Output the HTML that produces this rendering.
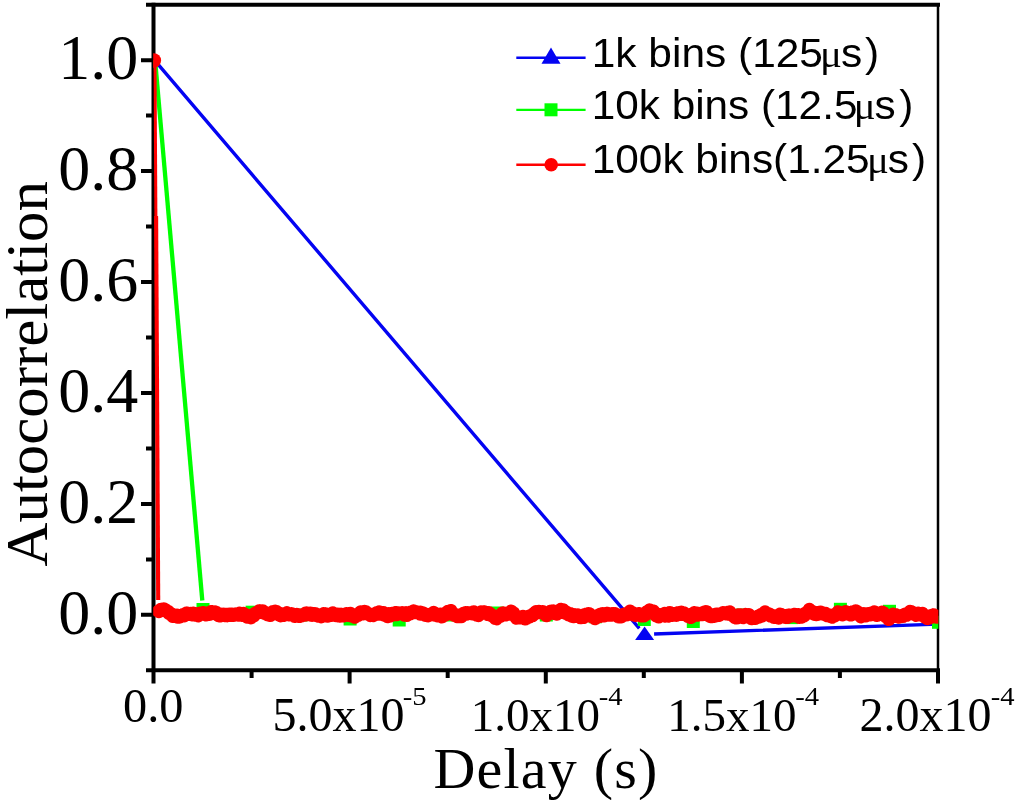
<!DOCTYPE html>
<html lang="en"><head><meta charset="utf-8"><title>Autocorrelation vs Delay</title>
<style>html,body{margin:0;padding:0;background:#fff}svg{display:block}.ser{font-family:"Liberation Serif",serif;fill:#000}.san{font-family:"Liberation Sans",sans-serif;fill:#000}</style></head><body>
<svg width="1015" height="800" viewBox="0 0 1015 800">
<rect width="1015" height="800" fill="#fff"/>
<defs><clipPath id="pa"><rect x="153.2" y="4" width="785.2" height="667"/></clipPath></defs>
<g stroke="#000" fill="none" stroke-linecap="butt">
<path d="M146 4.7 H940" stroke-width="4"/>
<path d="M146 670.3 H940" stroke-width="4"/>
<path d="M153.5 2.7 V683.5" stroke-width="4"/>
<path d="M938.0 4 V672" stroke-width="2.5"/>
<path d="M141 60.2 H153.5 M141 171.1 H153.5 M141 282.0 H153.5 M141 393.0 H153.5 M141 503.9 H153.5 M141 614.8 H153.5 M146 115.6 H153.5 M146 226.6 H153.5 M146 337.5 H153.5 M146 448.4 H153.5 M146 559.4 H153.5 M349.6 670.3 V683.5 M545.8 670.3 V683.5 M741.9 670.3 V683.5 M938.0 670.3 V683.5 M251.6 670.3 V678 M447.7 670.3 V678 M643.8 670.3 V678 M839.9 670.3 V678 " stroke-width="4"/>
</g>
<g clip-path="url(#pa)" fill="none" stroke-linejoin="round" stroke-linecap="butt">
<path d="M154.5 60.2 L639.3 628.4 M654.1 634.0 L938.0 624.1" stroke="#0404f2" stroke-width="3.4"/>
<path d="M644.6 626.5 L654.1 640.0 L635.1 640.0 Z" fill="#0404f2"/>
<path d="M155.1 60.2 L202.3 600.5" stroke="#00ff00" stroke-width="4.3"/>
<rect x="196.5" y="603.0" width="13" height="13" fill="#00ff00"/>
<rect x="245.6" y="605.7" width="13" height="13" fill="#00ff00"/>
<rect x="294.6" y="608.5" width="13" height="13" fill="#00ff00"/>
<rect x="343.6" y="612.5" width="13" height="13" fill="#00ff00"/>
<rect x="392.7" y="613.5" width="13" height="13" fill="#00ff00"/>
<rect x="441.7" y="608.5" width="13" height="13" fill="#00ff00"/>
<rect x="490.7" y="606.5" width="13" height="13" fill="#00ff00"/>
<rect x="539.8" y="608.5" width="13" height="13" fill="#00ff00"/>
<rect x="588.8" y="610.3" width="13" height="13" fill="#00ff00"/>
<rect x="637.8" y="613.0" width="13" height="13" fill="#00ff00"/>
<rect x="686.8" y="615.0" width="13" height="13" fill="#00ff00"/>
<rect x="735.9" y="608.5" width="13" height="13" fill="#00ff00"/>
<rect x="784.9" y="611.1" width="13" height="13" fill="#00ff00"/>
<rect x="833.9" y="602.8" width="13" height="13" fill="#00ff00"/>
<rect x="883.0" y="604.8" width="13" height="13" fill="#00ff00"/>
<rect x="932.0" y="615.8" width="13" height="13" fill="#00ff00"/>
<path d="M155.0 60.2 L155.9 216" stroke="#ff0000" stroke-width="3.0"/><path d="M156.1 216 L158.2 600" stroke="#ff0000" stroke-width="4.1"/>
<circle cx="153.8" cy="60.5" r="7.3" fill="#ff0000"/>
<polyline points="158.4,611.2 158.9,611.5 159.4,611.2 159.9,611.0 160.4,610.3 160.8,609.3 161.3,610.0 161.8,610.3 162.3,609.7 162.8,609.3 163.3,610.0 163.8,608.8 164.3,609.1 164.7,610.0 165.2,609.5 165.7,610.1 166.2,611.2 166.7,610.8 167.2,611.1 167.7,611.5 168.1,611.3 168.6,611.6 169.1,613.4 169.6,613.0 170.1,613.2 170.6,613.4 171.1,613.8 171.6,614.4 172.0,614.5 172.5,616.4 173.0,615.3 173.5,616.0 174.0,615.8 174.5,615.8 175.0,615.2 175.5,616.4 175.9,616.1 176.4,616.0 176.9,615.2 177.4,617.1 177.9,616.7 178.4,616.1 178.9,617.0 179.4,617.1 179.8,617.1 180.3,616.5 180.8,615.7 181.3,616.1 181.8,615.9 182.3,615.4 182.8,614.9 183.3,615.2 183.7,615.7 184.2,615.8 184.7,614.1 185.2,615.0 185.7,614.1 186.2,613.2 186.7,613.9 187.2,613.1 187.6,613.6 188.1,613.9 188.6,614.2 189.1,613.8 189.6,613.8 190.1,614.4 190.6,613.4 191.0,614.6 191.5,614.3 192.0,614.8 192.5,614.5 193.0,613.7 193.5,613.1 194.0,613.8 194.5,614.7 194.9,615.1 195.4,614.7 195.9,614.0 196.4,614.5 196.9,614.3 197.4,615.3 197.9,613.6 198.4,615.8 198.8,614.3 199.3,613.5 199.8,613.6 200.3,613.3 200.8,613.0 201.3,613.9 201.8,613.3 202.3,613.2 202.7,613.3 203.2,612.6 203.7,613.7 204.2,612.9 204.7,613.7 205.2,614.1 205.7,614.2 206.2,615.0 206.6,613.9 207.1,613.7 207.6,613.9 208.1,613.8 208.6,612.8 209.1,613.8 209.6,614.3 210.1,613.4 210.5,613.6 211.0,611.5 211.5,613.0 212.0,612.5 212.5,612.5 213.0,611.9 213.5,612.5 213.9,612.6 214.4,612.5 214.9,611.9 215.4,612.2 215.9,613.3 216.4,612.3 216.9,613.7 217.4,614.3 217.8,613.8 218.3,615.6 218.8,615.3 219.3,615.2 219.8,614.2 220.3,616.0 220.8,615.5 221.3,615.1 221.7,615.4 222.2,614.4 222.7,614.2 223.2,614.1 223.7,614.2 224.2,615.3 224.7,614.7 225.2,615.6 225.6,614.8 226.1,614.4 226.6,615.3 227.1,615.6 227.6,615.1 228.1,614.5 228.6,615.1 229.1,614.9 229.5,614.1 230.0,614.8 230.5,615.3 231.0,615.0 231.5,614.1 232.0,614.0 232.5,614.2 233.0,615.2 233.4,615.4 233.9,615.0 234.4,615.2 234.9,614.2 235.4,614.9 235.9,614.2 236.4,614.0 236.9,614.8 237.3,614.0 237.8,614.5 238.3,615.1 238.8,613.9 239.3,613.1 239.8,615.1 240.3,613.9 240.7,614.2 241.2,613.6 241.7,614.5 242.2,615.2 242.7,615.2 243.2,615.5 243.7,613.4 244.2,615.3 244.6,614.8 245.1,614.9 245.6,615.7 246.1,615.6 246.6,615.2 247.1,617.2 247.6,615.2 248.1,616.0 248.5,615.3 249.0,616.4 249.5,616.2 250.0,616.8 250.5,616.3 251.0,617.8 251.5,616.2 252.0,615.5 252.4,616.6 252.9,615.1 253.4,615.2 253.9,616.0 254.4,614.9 254.9,613.3 255.4,614.0 255.9,612.7 256.3,613.1 256.8,612.6 257.3,611.9 257.8,611.9 258.3,612.0 258.8,611.9 259.3,610.8 259.8,611.5 260.2,610.8 260.7,612.5 261.2,612.1 261.7,611.9 262.2,611.9 262.7,610.8 263.2,612.1 263.6,612.0 264.1,612.0 264.6,612.1 265.1,613.6 265.6,613.7 266.1,613.4 266.6,613.7 267.1,614.6 267.5,614.3 268.0,614.8 268.5,614.4 269.0,613.9 269.5,615.3 270.0,614.7 270.5,615.4 271.0,614.1 271.4,614.4 271.9,613.7 272.4,612.9 272.9,611.6 273.4,611.9 273.9,612.5 274.4,612.2 274.9,612.2 275.3,611.1 275.8,612.7 276.3,611.4 276.8,612.0 277.3,612.3 277.8,612.4 278.3,614.6 278.8,614.8 279.2,614.6 279.7,614.0 280.2,614.4 280.7,615.8 281.2,615.5 281.7,615.0 282.2,613.9 282.7,614.6 283.1,614.3 283.6,615.5 284.1,614.5 284.6,614.7 285.1,614.8 285.6,614.6 286.1,614.0 286.5,614.2 287.0,612.7 287.5,614.7 288.0,614.3 288.5,613.7 289.0,613.7 289.5,614.9 290.0,613.9 290.4,614.4 290.9,614.9 291.4,613.6 291.9,615.1 292.4,613.8 292.9,614.5 293.4,614.8 293.9,615.5 294.3,616.4 294.8,616.0 295.3,615.5 295.8,615.3 296.3,615.5 296.8,614.3 297.3,615.3 297.8,615.9 298.2,616.3 298.7,615.7 299.2,614.9 299.7,616.4 300.2,616.0 300.7,615.6 301.2,615.1 301.7,615.9 302.1,615.1 302.6,615.2 303.1,614.7 303.6,614.4 304.1,614.9 304.6,614.5 305.1,615.2 305.6,613.0 306.0,613.3 306.5,612.8 307.0,614.1 307.5,613.6 308.0,614.3 308.5,614.4 309.0,614.5 309.5,613.5 309.9,614.0 310.4,613.0 310.9,614.6 311.4,615.3 311.9,615.4 312.4,614.8 312.9,614.9 313.3,614.6 313.8,614.3 314.3,614.5 314.8,613.5 315.3,614.0 315.8,614.2 316.3,615.6 316.8,614.8 317.2,614.7 317.7,615.1 318.2,616.0 318.7,615.9 319.2,615.1 319.7,615.9 320.2,616.5 320.7,615.8 321.1,616.8 321.6,616.0 322.1,615.0 322.6,615.6 323.1,615.5 323.6,613.7 324.1,614.0 324.6,615.3 325.0,615.8 325.5,614.7 326.0,614.0 326.5,614.1 327.0,615.2 327.5,615.2 328.0,616.2 328.5,614.9 328.9,615.1 329.4,615.4 329.9,614.0 330.4,614.7 330.9,615.4 331.4,615.4 331.9,614.2 332.4,614.1 332.8,612.8 333.3,614.1 333.8,614.4 334.3,614.2 334.8,614.3 335.3,615.0 335.8,615.4 336.2,615.7 336.7,614.8 337.2,614.0 337.7,614.5 338.2,614.4 338.7,615.8 339.2,616.0 339.7,616.1 340.1,615.1 340.6,614.3 341.1,615.3 341.6,615.6 342.1,614.5 342.6,614.6 343.1,615.2 343.6,615.9 344.0,615.3 344.5,615.0 345.0,614.8 345.5,614.0 346.0,613.9 346.5,613.6 347.0,613.9 347.5,615.1 347.9,614.5 348.4,615.4 348.9,615.1 349.4,614.9 349.9,615.2 350.4,613.4 350.9,615.7 351.4,616.1 351.8,616.0 352.3,614.6 352.8,614.9 353.3,615.1 353.8,616.2 354.3,615.8 354.8,617.2 355.3,615.6 355.7,615.7 356.2,615.8 356.7,615.3 357.2,614.4 357.7,614.6 358.2,615.3 358.7,614.3 359.1,614.2 359.6,613.9 360.1,613.3 360.6,611.8 361.1,613.4 361.6,612.7 362.1,612.9 362.6,614.0 363.0,612.2 363.5,612.2 364.0,612.6 364.5,611.4 365.0,612.0 365.5,612.5 366.0,611.9 366.5,612.3 366.9,613.5 367.4,613.9 367.9,613.8 368.4,614.2 368.9,614.6 369.4,614.9 369.9,614.1 370.4,615.6 370.8,614.4 371.3,615.0 371.8,614.5 372.3,614.7 372.8,615.4 373.3,615.7 373.8,614.6 374.3,614.8 374.7,614.2 375.2,614.5 375.7,613.7 376.2,613.8 376.7,612.7 377.2,614.1 377.7,613.9 378.2,613.3 378.6,612.8 379.1,611.9 379.6,614.1 380.1,612.2 380.6,614.1 381.1,613.6 381.6,613.3 382.0,613.8 382.5,614.6 383.0,614.1 383.5,612.6 384.0,614.1 384.5,614.9 385.0,615.0 385.5,615.7 385.9,614.8 386.4,615.6 386.9,615.2 387.4,616.7 387.9,614.5 388.4,613.7 388.9,614.7 389.4,615.6 389.8,616.2 390.3,614.8 390.8,614.3 391.3,614.4 391.8,615.3 392.3,613.4 392.8,613.4 393.3,613.1 393.7,613.6 394.2,613.7 394.7,614.0 395.2,612.7 395.7,613.0 396.2,612.6 396.7,614.6 397.2,614.4 397.6,613.0 398.1,613.0 398.6,612.9 399.1,613.5 399.6,613.2 400.1,613.3 400.6,613.3 401.1,613.0 401.5,613.7 402.0,612.7 402.5,614.2 403.0,614.0 403.5,613.7 404.0,615.1 404.5,614.7 405.0,612.9 405.4,614.1 405.9,612.9 406.4,614.8 406.9,615.4 407.4,614.0 407.9,613.7 408.4,612.6 408.8,612.6 409.3,612.9 409.8,613.0 410.3,612.2 410.8,613.7 411.3,612.0 411.8,613.0 412.3,612.8 412.7,612.4 413.2,611.4 413.7,610.8 414.2,611.3 414.7,611.9 415.2,612.6 415.7,611.5 416.2,612.1 416.6,611.9 417.1,612.3 417.6,612.1 418.1,613.1 418.6,612.5 419.1,612.9 419.6,613.6 420.1,614.1 420.5,612.1 421.0,614.0 421.5,612.8 422.0,613.1 422.5,613.3 423.0,613.0 423.5,614.2 424.0,613.8 424.4,614.7 424.9,613.9 425.4,615.5 425.9,615.1 426.4,614.5 426.9,614.3 427.4,615.3 427.9,615.4 428.3,615.7 428.8,615.3 429.3,615.4 429.8,615.0 430.3,614.7 430.8,614.3 431.3,614.2 431.7,614.4 432.2,614.1 432.7,613.9 433.2,612.7 433.7,612.5 434.2,612.9 434.7,615.2 435.2,614.1 435.6,614.5 436.1,614.6 436.6,614.5 437.1,615.8 437.6,615.4 438.1,615.8 438.6,615.4 439.1,616.1 439.5,615.0 440.0,614.6 440.5,614.1 441.0,614.5 441.5,615.6 442.0,616.9 442.5,615.6 443.0,616.0 443.4,614.9 443.9,614.3 444.4,614.3 444.9,614.7 445.4,613.9 445.9,614.8 446.4,612.4 446.9,612.8 447.3,611.8 447.8,611.3 448.3,611.8 448.8,612.7 449.3,612.7 449.8,612.6 450.3,613.0 450.8,610.5 451.2,612.8 451.7,613.5 452.2,613.3 452.7,614.2 453.2,614.2 453.7,615.1 454.2,614.5 454.6,614.8 455.1,615.5 455.6,614.6 456.1,615.0 456.6,615.8 457.1,616.6 457.6,616.5 458.1,615.9 458.5,615.8 459.0,616.6 459.5,615.5 460.0,615.0 460.5,614.8 461.0,615.9 461.5,616.6 462.0,615.8 462.4,613.9 462.9,613.8 463.4,614.6 463.9,613.3 464.4,613.4 464.9,613.8 465.4,612.7 465.9,613.5 466.3,613.4 466.8,614.2 467.3,612.5 467.8,613.7 468.3,613.1 468.8,612.9 469.3,613.2 469.8,613.0 470.2,613.4 470.7,612.8 471.2,612.6 471.7,613.6 472.2,613.9 472.7,613.1 473.2,613.2 473.7,611.8 474.1,612.8 474.6,614.1 475.1,614.0 475.6,614.3 476.1,614.7 476.6,615.0 477.1,614.9 477.6,615.2 478.0,615.1 478.5,615.6 479.0,615.1 479.5,614.5 480.0,613.8 480.5,613.1 481.0,611.9 481.4,612.0 481.9,612.7 482.4,612.3 482.9,612.7 483.4,611.8 483.9,612.1 484.4,611.9 484.9,612.2 485.3,612.9 485.8,613.5 486.3,613.7 486.8,613.6 487.3,613.0 487.8,614.5 488.3,613.6 488.8,612.6 489.2,613.0 489.7,613.6 490.2,615.1 490.7,614.8 491.2,614.4 491.7,615.5 492.2,615.5 492.7,616.0 493.1,616.6 493.6,616.5 494.1,617.0 494.6,616.3 495.1,618.5 495.6,617.2 496.1,618.1 496.6,618.8 497.0,617.4 497.5,616.5 498.0,616.7 498.5,616.9 499.0,616.5 499.5,616.2 500.0,615.1 500.5,616.4 500.9,614.8 501.4,614.5 501.9,613.5 502.4,613.2 502.9,613.0 503.4,613.5 503.9,613.8 504.3,613.7 504.8,613.7 505.3,613.7 505.8,614.9 506.3,613.4 506.8,613.2 507.3,614.0 507.8,614.1 508.2,613.2 508.7,613.7 509.2,614.1 509.7,613.2 510.2,612.9 510.7,611.7 511.2,611.1 511.7,611.7 512.1,612.7 512.6,612.6 513.1,612.6 513.6,612.8 514.1,614.3 514.6,615.3 515.1,615.6 515.6,616.6 516.0,617.4 516.5,618.2 517.0,617.6 517.5,617.0 518.0,617.3 518.5,617.1 519.0,618.0 519.5,617.3 519.9,617.1 520.4,617.4 520.9,617.2 521.4,617.3 521.9,617.3 522.4,618.0 522.9,616.4 523.4,616.8 523.8,616.7 524.3,618.5 524.8,618.4 525.3,619.0 525.8,617.9 526.3,617.8 526.8,617.3 527.2,618.1 527.7,616.9 528.2,616.7 528.7,616.3 529.2,617.1 529.7,616.6 530.2,616.6 530.7,615.9 531.1,615.3 531.6,616.0 532.1,615.0 532.6,615.6 533.1,614.2 533.6,613.5 534.1,614.6 534.6,613.2 535.0,613.4 535.5,613.1 536.0,611.6 536.5,613.0 537.0,612.7 537.5,612.0 538.0,611.7 538.5,612.1 538.9,611.4 539.4,612.6 539.9,612.0 540.4,612.2 540.9,612.1 541.4,612.2 541.9,612.5 542.4,611.7 542.8,611.7 543.3,611.9 543.8,613.2 544.3,613.8 544.8,614.1 545.3,613.8 545.8,614.1 546.3,615.7 546.7,613.9 547.2,614.3 547.7,613.7 548.2,612.8 548.7,613.9 549.2,613.0 549.7,612.9 550.2,611.8 550.6,611.3 551.1,611.2 551.6,611.9 552.1,611.4 552.6,611.9 553.1,610.9 553.6,611.9 554.0,612.2 554.5,613.7 555.0,613.1 555.5,613.4 556.0,613.6 556.5,613.9 557.0,614.1 557.5,613.6 557.9,613.2 558.4,612.9 558.9,612.8 559.4,612.8 559.9,611.6 560.4,609.7 560.9,609.3 561.4,610.3 561.8,609.9 562.3,610.0 562.8,610.3 563.3,609.9 563.8,611.4 564.3,611.8 564.8,611.5 565.3,612.7 565.7,613.4 566.2,612.0 566.7,613.1 567.2,613.3 567.7,613.5 568.2,614.8 568.7,614.0 569.2,614.2 569.6,613.7 570.1,613.7 570.6,615.3 571.1,614.7 571.6,615.0 572.1,616.3 572.6,616.4 573.1,616.6 573.5,615.2 574.0,614.7 574.5,615.0 575.0,615.0 575.5,615.0 576.0,616.3 576.5,615.0 576.9,615.1 577.4,614.9 577.9,615.7 578.4,615.7 578.9,616.4 579.4,616.4 579.9,616.9 580.4,617.6 580.8,617.6 581.3,617.7 581.8,617.4 582.3,617.3 582.8,617.1 583.3,617.2 583.8,617.4 584.3,616.0 584.7,614.6 585.2,615.8 585.7,615.1 586.2,614.2 586.7,614.6 587.2,614.2 587.7,615.8 588.2,614.3 588.6,613.5 589.1,614.1 589.6,614.1 590.1,616.1 590.6,615.4 591.1,615.1 591.6,616.5 592.1,616.0 592.5,616.4 593.0,616.2 593.5,616.7 594.0,618.1 594.5,616.2 595.0,618.7 595.5,617.5 596.0,617.8 596.4,616.2 596.9,616.2 597.4,616.6 597.9,616.5 598.4,615.7 598.9,615.0 599.4,615.1 599.8,614.4 600.3,616.3 600.8,614.6 601.3,614.8 601.8,615.3 602.3,614.0 602.8,613.7 603.3,614.5 603.7,613.8 604.2,614.7 604.7,615.8 605.2,614.2 605.7,614.9 606.2,614.8 606.7,613.4 607.2,613.5 607.6,613.4 608.1,615.1 608.6,614.7 609.1,614.1 609.6,614.2 610.1,614.2 610.6,614.1 611.1,615.2 611.5,614.1 612.0,613.6 612.5,615.0 613.0,615.0 613.5,613.7 614.0,614.0 614.5,613.8 615.0,613.7 615.4,613.9 615.9,614.1 616.4,614.4 616.9,615.3 617.4,616.0 617.9,616.5 618.4,615.4 618.9,617.0 619.3,617.0 619.8,616.6 620.3,616.1 620.8,615.9 621.3,616.9 621.8,615.7 622.3,614.7 622.8,615.3 623.2,615.0 623.7,614.7 624.2,614.1 624.7,614.3 625.2,613.9 625.7,614.2 626.2,615.0 626.6,615.0 627.1,613.6 627.6,613.9 628.1,612.8 628.6,612.5 629.1,612.4 629.6,612.1 630.1,611.1 630.5,613.1 631.0,612.6 631.5,613.0 632.0,613.3 632.5,613.0 633.0,612.9 633.5,613.4 634.0,615.1 634.4,613.7 634.9,615.1 635.4,615.4 635.9,614.9 636.4,614.0 636.9,614.3 637.4,614.4 637.9,614.4 638.3,613.8 638.8,613.5 639.3,614.1 639.8,615.0 640.3,614.9 640.8,615.1 641.3,615.9 641.8,615.9 642.2,615.8 642.7,615.0 643.2,615.6 643.7,615.8 644.2,615.1 644.7,614.9 645.2,614.9 645.7,613.2 646.1,613.6 646.6,611.8 647.1,611.9 647.6,612.3 648.1,612.5 648.6,612.2 649.1,610.4 649.5,609.9 650.0,610.1 650.5,610.6 651.0,612.1 651.5,611.8 652.0,611.1 652.5,611.8 653.0,611.3 653.4,611.0 653.9,612.8 654.4,612.6 654.9,614.1 655.4,614.5 655.9,615.9 656.4,615.2 656.9,615.3 657.3,614.5 657.8,614.4 658.3,616.3 658.8,616.9 659.3,615.8 659.8,615.6 660.3,615.7 660.8,614.6 661.2,615.3 661.7,614.8 662.2,614.6 662.7,614.4 663.2,615.7 663.7,615.6 664.2,615.3 664.7,613.4 665.1,614.9 665.6,616.2 666.1,614.3 666.6,614.4 667.1,615.5 667.6,616.0 668.1,616.2 668.6,614.6 669.0,614.2 669.5,612.7 670.0,612.5 670.5,613.8 671.0,613.3 671.5,613.6 672.0,615.4 672.4,615.2 672.9,614.4 673.4,613.6 673.9,614.3 674.4,614.2 674.9,614.6 675.4,614.6 675.9,615.0 676.3,615.4 676.8,614.4 677.3,613.6 677.8,612.8 678.3,613.2 678.8,613.4 679.3,613.7 679.8,613.1 680.2,613.1 680.7,613.2 681.2,612.1 681.7,614.3 682.2,613.2 682.7,613.5 683.2,613.0 683.7,613.6 684.1,612.9 684.6,613.5 685.1,613.8 685.6,614.3 686.1,614.4 686.6,615.4 687.1,614.5 687.6,616.3 688.0,616.1 688.5,615.9 689.0,616.8 689.5,616.1 690.0,617.2 690.5,615.6 691.0,617.4 691.5,615.0 691.9,614.8 692.4,614.0 692.9,613.8 693.4,613.3 693.9,613.2 694.4,612.6 694.9,614.0 695.4,613.4 695.8,614.1 696.3,614.4 696.8,614.2 697.3,613.1 697.8,615.2 698.3,614.7 698.8,614.8 699.2,614.8 699.7,614.3 700.2,613.9 700.7,614.5 701.2,613.9 701.7,613.1 702.2,613.8 702.7,614.6 703.1,613.0 703.6,612.3 704.1,612.9 704.6,612.0 705.1,612.2 705.6,612.4 706.1,611.6 706.6,611.7 707.0,612.7 707.5,613.2 708.0,613.1 708.5,613.9 709.0,615.4 709.5,616.2 710.0,616.4 710.5,615.9 710.9,616.6 711.4,615.9 711.9,616.2 712.4,616.7 712.9,615.2 713.4,615.1 713.9,615.7 714.4,616.3 714.8,614.7 715.3,614.8 715.8,614.3 716.3,614.0 716.8,614.7 717.3,615.7 717.8,614.5 718.3,614.8 718.7,615.0 719.2,615.3 719.7,614.1 720.2,614.3 720.7,613.6 721.2,613.5 721.7,613.7 722.1,613.8 722.6,613.1 723.1,612.5 723.6,613.1 724.1,613.4 724.6,612.8 725.1,613.4 725.6,613.4 726.0,613.9 726.5,612.7 727.0,613.7 727.5,613.3 728.0,614.1 728.5,612.0 729.0,613.4 729.5,613.3 729.9,611.9 730.4,613.2 730.9,614.5 731.4,614.0 731.9,613.8 732.4,615.3 732.9,615.8 733.4,616.3 733.8,616.0 734.3,617.0 734.8,617.6 735.3,617.4 735.8,617.1 736.3,617.9 736.8,617.9 737.3,616.1 737.7,615.1 738.2,614.9 738.7,614.8 739.2,615.1 739.7,615.4 740.2,615.1 740.7,614.9 741.2,614.8 741.6,614.9 742.1,615.2 742.6,615.4 743.1,617.7 743.6,617.6 744.1,616.6 744.6,616.3 745.0,615.8 745.5,614.4 746.0,615.4 746.5,615.6 747.0,616.2 747.5,615.7 748.0,616.0 748.5,615.4 748.9,614.6 749.4,615.1 749.9,615.6 750.4,616.8 750.9,616.9 751.4,618.6 751.9,618.1 752.4,618.3 752.8,618.0 753.3,617.5 753.8,617.9 754.3,618.4 754.8,617.8 755.3,618.5 755.8,617.6 756.3,616.9 756.7,616.8 757.2,617.3 757.7,616.6 758.2,616.0 758.7,616.0 759.2,617.1 759.7,616.0 760.2,615.0 760.6,616.1 761.1,614.6 761.6,614.6 762.1,616.0 762.6,615.0 763.1,613.8 763.6,614.7 764.1,613.3 764.5,612.7 765.0,611.8 765.5,614.6 766.0,613.0 766.5,614.7 767.0,614.1 767.5,613.7 768.0,613.7 768.4,614.4 768.9,614.8 769.4,614.8 769.9,614.2 770.4,616.0 770.9,615.0 771.4,616.0 771.8,616.0 772.3,615.4 772.8,616.1 773.3,616.8 773.8,617.3 774.3,617.3 774.8,616.9 775.3,616.5 775.7,617.5 776.2,615.5 776.7,616.8 777.2,617.6 777.7,616.1 778.2,617.6 778.7,618.1 779.2,616.1 779.6,617.2 780.1,614.2 780.6,617.0 781.1,617.0 781.6,617.0 782.1,616.4 782.6,616.9 783.1,616.5 783.5,616.9 784.0,615.4 784.5,615.8 785.0,617.1 785.5,616.3 786.0,617.2 786.5,617.5 787.0,616.5 787.4,617.4 787.9,616.5 788.4,615.0 788.9,615.6 789.4,615.3 789.9,615.7 790.4,615.4 790.9,615.3 791.3,616.1 791.8,615.5 792.3,615.7 792.8,614.8 793.3,614.9 793.8,614.5 794.3,614.9 794.7,614.3 795.2,615.2 795.7,614.5 796.2,616.1 796.7,615.9 797.2,615.5 797.7,614.9 798.2,614.5 798.6,615.4 799.1,617.4 799.6,617.2 800.1,616.1 800.6,616.2 801.1,616.7 801.6,617.1 802.1,615.8 802.5,615.7 803.0,615.0 803.5,615.4 804.0,616.0 804.5,615.0 805.0,615.1 805.5,613.3 806.0,613.2 806.4,612.6 806.9,613.3 807.4,611.9 807.9,612.2 808.4,610.8 808.9,611.0 809.4,609.4 809.9,610.3 810.3,610.3 810.8,611.2 811.3,612.2 811.8,611.2 812.3,611.8 812.8,612.0 813.3,612.2 813.8,613.7 814.2,614.3 814.7,613.2 815.2,614.5 815.7,614.3 816.2,614.6 816.7,613.1 817.2,612.5 817.6,613.0 818.1,614.4 818.6,613.5 819.1,613.0 819.6,613.5 820.1,612.6 820.6,612.2 821.1,612.7 821.5,612.7 822.0,612.8 822.5,613.1 823.0,613.6 823.5,614.3 824.0,613.5 824.5,613.4 825.0,613.6 825.4,613.5 825.9,614.5 826.4,615.3 826.9,615.5 827.4,615.2 827.9,615.6 828.4,615.9 828.9,616.0 829.3,614.9 829.8,615.6 830.3,616.3 830.8,616.5 831.3,616.6 831.8,615.9 832.3,617.1 832.8,616.1 833.2,615.9 833.7,615.8 834.2,615.4 834.7,616.0 835.2,614.9 835.7,613.9 836.2,613.6 836.7,613.4 837.1,613.9 837.6,612.6 838.1,611.8 838.6,613.4 839.1,612.4 839.6,612.8 840.1,614.0 840.6,613.9 841.0,613.7 841.5,614.4 842.0,612.6 842.5,614.8 843.0,614.5 843.5,612.9 844.0,612.5 844.4,612.0 844.9,612.4 845.4,611.5 845.9,612.7 846.4,613.2 846.9,613.4 847.4,613.9 847.9,614.0 848.3,613.2 848.8,613.9 849.3,613.6 849.8,614.2 850.3,614.7 850.8,615.0 851.3,613.4 851.8,613.8 852.2,612.3 852.7,611.9 853.2,612.6 853.7,611.9 854.2,612.4 854.7,611.5 855.2,611.3 855.7,610.8 856.1,610.9 856.6,612.0 857.1,614.0 857.6,612.0 858.1,614.2 858.6,613.9 859.1,614.1 859.6,613.7 860.0,614.4 860.5,614.6 861.0,616.8 861.5,616.0 862.0,615.6 862.5,615.1 863.0,614.9 863.5,614.8 863.9,613.7 864.4,614.2 864.9,613.8 865.4,615.1 865.9,615.8 866.4,614.8 866.9,614.1 867.3,615.0 867.8,613.8 868.3,613.5 868.8,613.6 869.3,614.1 869.8,614.8 870.3,614.9 870.8,613.9 871.2,614.3 871.7,612.9 872.2,613.1 872.7,612.9 873.2,612.7 873.7,612.7 874.2,611.8 874.7,612.5 875.1,612.9 875.6,613.9 876.1,613.2 876.6,615.5 877.1,614.5 877.6,615.1 878.1,613.4 878.6,614.0 879.0,613.2 879.5,613.7 880.0,613.6 880.5,613.2 881.0,614.1 881.5,613.6 882.0,612.1 882.5,612.7 882.9,613.0 883.4,613.2 883.9,613.2 884.4,614.1 884.9,615.8 885.4,615.9 885.9,616.8 886.4,615.9 886.8,616.8 887.3,617.5 887.8,618.0 888.3,617.6 888.8,619.4 889.3,617.6 889.8,617.1 890.2,615.9 890.7,616.1 891.2,616.4 891.7,615.4 892.2,615.5 892.7,615.4 893.2,614.2 893.7,614.4 894.1,615.8 894.6,615.2 895.1,616.4 895.6,614.7 896.1,615.5 896.6,616.5 897.1,615.5 897.6,615.3 898.0,616.5 898.5,616.2 899.0,617.2 899.5,616.3 900.0,616.4 900.5,616.6 901.0,615.9 901.5,615.7 901.9,615.9 902.4,616.0 902.9,616.5 903.4,615.8 903.9,614.7 904.4,615.5 904.9,614.1 905.4,614.4 905.8,614.8 906.3,614.3 906.8,615.2 907.3,613.3 907.8,613.1 908.3,612.9 908.8,612.7 909.3,612.3 909.7,612.2 910.2,611.3 910.7,611.5 911.2,611.9 911.7,613.2 912.2,612.2 912.7,613.1 913.2,612.9 913.6,613.4 914.1,614.2 914.6,614.1 915.1,614.1 915.6,614.4 916.1,615.4 916.6,615.1 917.0,615.2 917.5,613.9 918.0,613.1 918.5,614.5 919.0,614.5 919.5,615.0 920.0,614.1 920.5,615.1 920.9,614.1 921.4,613.9 921.9,614.2 922.4,613.4 922.9,614.0 923.4,615.1 923.9,614.9 924.4,615.4 924.8,617.0 925.3,616.2 925.8,616.4 926.3,616.6 926.8,617.1 927.3,618.7 927.8,618.0 928.3,618.4 928.7,618.4 929.2,618.2 929.7,616.3 930.2,617.2 930.7,615.7 931.2,615.3 931.7,615.5 932.2,615.1 932.6,615.3 933.1,615.5 933.6,614.9 934.1,615.3 934.6,616.4 935.1,616.0 935.6,615.9 936.1,617.2 936.5,617.1 937.0,616.8 937.5,616.6 938.0,617.2" stroke="#ff0000" stroke-width="13.2" stroke-linecap="round"/>
</g>
<g class="ser" font-size="64" text-anchor="end">
<text x="138.2" y="79.0">1.0</text>
<text x="138.2" y="189.9">0.8</text>
<text x="138.2" y="300.8">0.6</text>
<text x="138.2" y="411.8">0.4</text>
<text x="138.2" y="522.7">0.2</text>
<text x="138.2" y="633.6">0.0</text>
</g>
<g class="ser" font-size="48.3" text-anchor="middle">
<text x="153.3" y="721.8">0.0</text>
</g>
<g class="ser">
<text font-size="48" x="272.6" y="730.6">5.0x10</text><text font-size="26" transform="translate(402.8 705.2) scale(1.1 1)">-5</text>
<text font-size="47" x="470.8" y="730.6">1.0x10</text><text font-size="26" transform="translate(598.8 705.2) scale(1.1 1)">-4</text>
<text font-size="47" x="667.2" y="730.6">1.5x10</text><text font-size="26" transform="translate(795.3 705.2) scale(1.1 1)">-4</text>
<text font-size="48" x="859.4" y="730.6">2.0x10</text><text font-size="26" transform="translate(990.7 705.2) scale(1.1 1)">-4</text>
</g>
<text class="ser" font-size="58" x="433.4" y="787.6" textLength="224" lengthAdjust="spacing">Delay (s)</text>
<text class="ser" font-size="60" transform="translate(47.3 566.5) rotate(-90)" textLength="385.5" lengthAdjust="spacingAndGlyphs">Autocorrelation</text>
<path d="M516.3 57.8 H585.6" stroke="#0404f2" stroke-width="2.4"/>
<path d="M551 47.6 L560.5 63.8 L541.5 63.8 Z" fill="#0404f2"/>
<text class="san" font-size="40.5" transform="translate(591.7 66.5) scale(1.0485 1)">1k bins (125<tspan class="ser" font-size="39" dx="-2.8">μ</tspan><tspan dx="-0.9">s</tspan><tspan dx="2.6">)</tspan></text>
<path d="M516.3 109.9 H585.6" stroke="#00ff00" stroke-width="2.4"/>
<rect x="544.5" y="103.3" width="13" height="13" fill="#00ff00"/>
<text class="san" font-size="40.5" transform="translate(591.7 119.0) scale(1.0445 1)">10k bins (12.5<tspan class="ser" font-size="39" dx="-3.5">μ</tspan><tspan dx="-1.0">s</tspan><tspan dx="3.4">)</tspan></text>
<path d="M516.3 164.7 H585.6" stroke="#ff0000" stroke-width="2.4"/>
<circle cx="551.2" cy="164.8" r="6.8" fill="#ff0000"/>
<text class="san" font-size="40.5" transform="translate(591.7 172.6) scale(1.0465 1)">100k bins(1.25<tspan class="ser" font-size="39" dx="-2.6">μ</tspan><tspan dx="-0.9">s</tspan><tspan dx="2.9">)</tspan></text>
</svg></body></html>
